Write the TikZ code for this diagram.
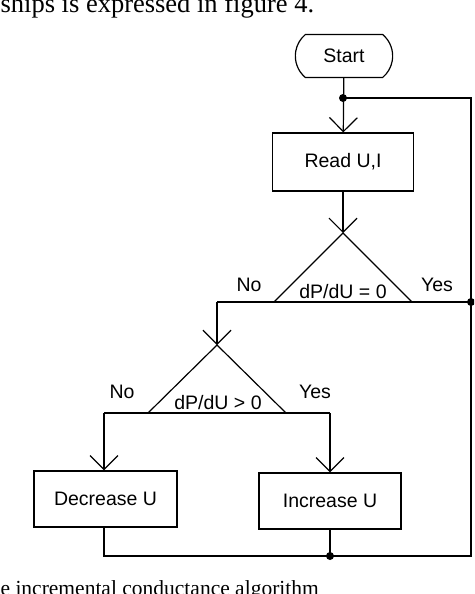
\documentclass[tikz,border=0pt]{standalone}
\usepackage{fontspec}
\setmainfont{Liberation Serif}
\setsansfont{Liberation Sans}
\usetikzlibrary{arrows.meta,shapes.misc}

\tikzset{
  box/.style={draw, font=\sffamily\fontsize{19.5}{22}\selectfont},
  term/.style={draw, rounded rectangle, rounded rectangle arc length=100, font=\sffamily\fontsize{19.5}{22}\selectfont},
  lab/.style={anchor=base, inner sep=0pt, font=\sffamily\fontsize{19.5}{22}\selectfont},
  flow/.style={-{Straight Barb[length=14pt,width=28pt,line width=1.2pt]}},
  dot/.style={circle, fill, inner sep=0pt, minimum size=8pt},
  txt/.style={anchor=base west, inner sep=0pt}
}

\begin{document}
\begin{tikzpicture}[x=1pt,y=-1pt,line width=1.2pt]
\clip (0,0) rectangle (474,594);
\useasboundingbox (0,0) rectangle (474,594);

\node (T-1) at (0,13) [txt, font=\fontsize{26.5}{30}\selectfont]{ships is expressed in figure 4.};
\node (T-2) at (0,595) [txt, font=\fontsize{21.5}{25}\selectfont]{e incremental conductance algorithm};

\node (S) at (344,56) [term, minimum width=104pt, minimum height=43pt]{Start};
\node (R) at (343,162) [box, minimum width=141pt, minimum height=58pt]{Read U,I};
\node (DEC) at (105.5,499) [box, minimum width=143pt, minimum height=56pt]{Decrease U};
\node (INC) at (330,501) [box, minimum width=142pt, minimum height=56pt]{Increase U};

\node (J-1) at (343,98) [dot]{};
\node (J-2) at (471,302) [dot]{};
\node (J-3) at (330,556) [dot]{};

% decision 1
\coordinate (D1) at (343,233);
\coordinate (D1-L) at (274,302);
\coordinate (D1-R) at (412,302);
\coordinate (B1-L) at (217,302);
\node (D1-T) at (343,298) [lab]{dP/dU = 0};
\node (N-1) at (249,291) [lab]{No};
\node (Y-1) at (437,291) [lab]{Yes};

% decision 2
\coordinate (D2) at (217,345);
\coordinate (D2-L) at (148,413);
\coordinate (D2-R) at (286,413);
\coordinate (B2-L) at (104,413);
\coordinate (B2-R) at (330,413);
\node (D2-T) at (218,409) [lab]{dP/dU > 0};
\node (N-2) at (122,398) [lab]{No};
\node (Y-2) at (315,398) [lab]{Yes};

\draw [flow] (S) -- (R);
\draw [flow] (R) -- (D1);
\draw (D1-L) -- (D1) -- (D1-R);
\draw (B1-L) -- (J-2.center);
\draw [flow] (B1-L) -- (D2);
\draw (D2-L) -- (D2) -- (D2-R);
\draw (B2-L) -- (B2-R);
\draw [flow] (B2-L) -- (B2-L |- DEC.north);
\draw [flow] (B2-R) -- (INC);

\draw (INC) -- (J-3.center);
\draw (B2-L |- DEC.south) |- (J-3.center) -| (J-2.center) |- (J-1.center);

\end{tikzpicture}
\end{document}
